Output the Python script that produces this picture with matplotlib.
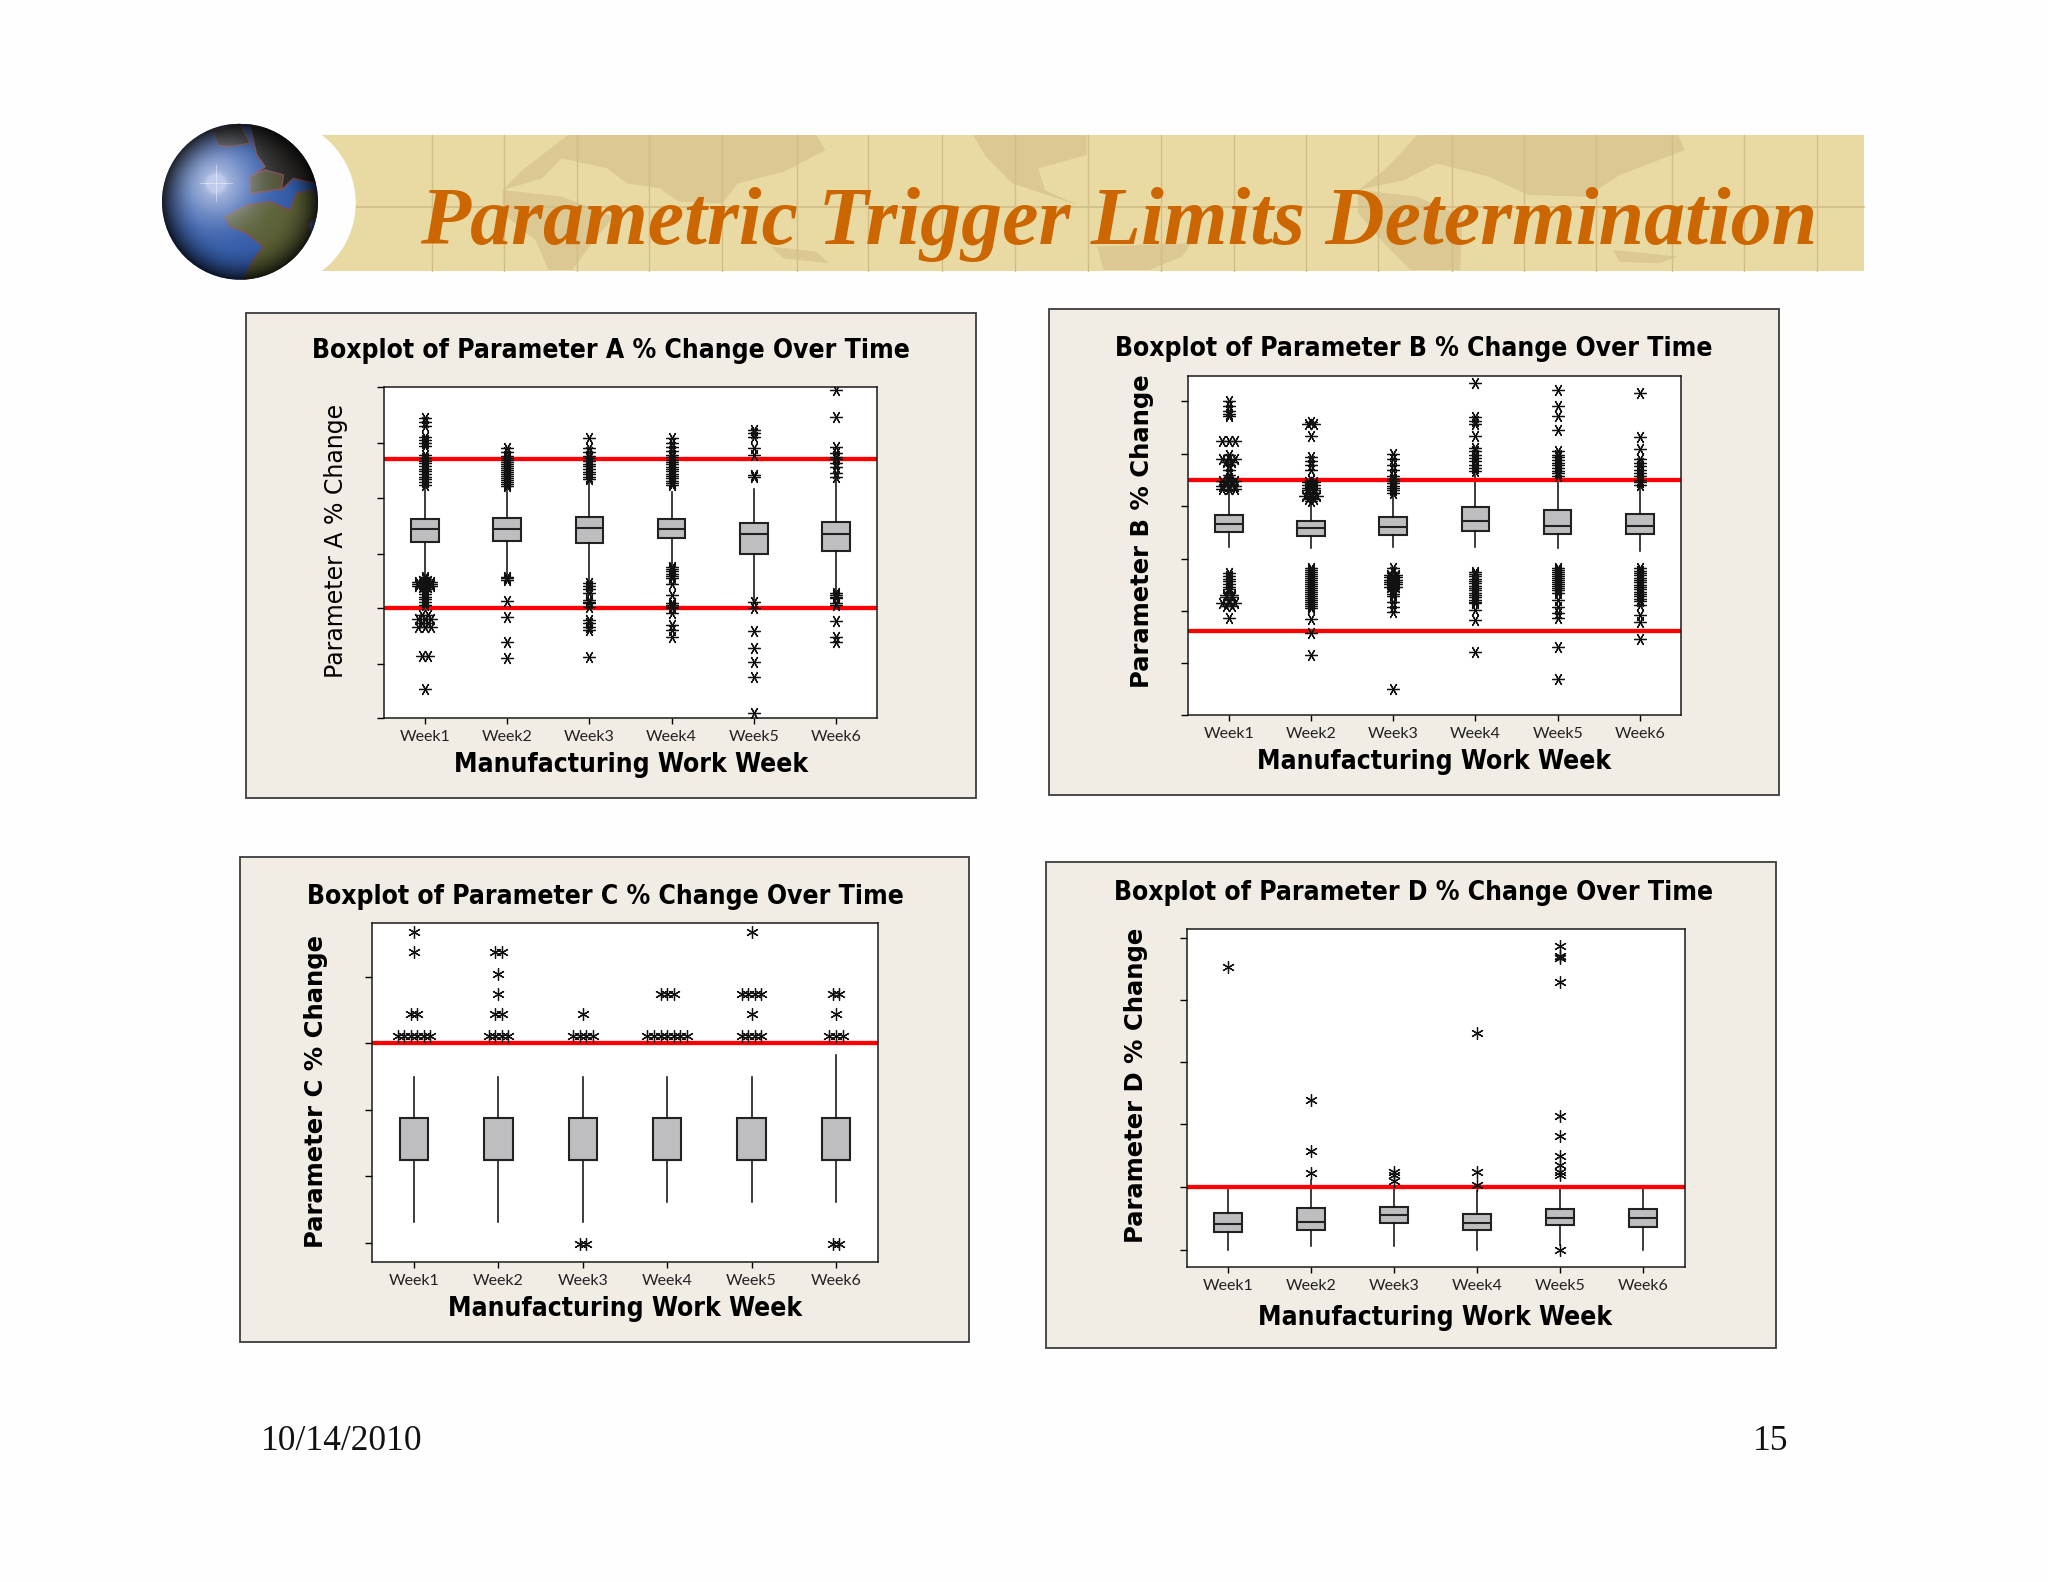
import numpy as np
import matplotlib
matplotlib.use("Agg")
import matplotlib.pyplot as plt
from matplotlib.patches import Rectangle, Circle, Polygon
from collections import Counter

WEEKS = ["Week1", "Week2", "Week3", "Week4", "Week5", "Week6"]
X_LABEL = "Manufacturing Work Week"
SLIDE_TITLE = "Parametric Trigger Limits Determination"
DATE_TEXT = "10/14/2010"
PAGE_TEXT = "15"

# ---- Parameter A (unlabelled axis: arbitrary units)
A_TITLE = "Boxplot of Parameter A % Change Over Time"
A_YLABEL = "Parameter A % Change"
A_TICKS = [0, 163, 330, 493, 661, 824, 992]
A_LIMITS = [330, 776]
A_Q1 = [528, 532, 524, 539, 493, 501]
A_MED = [566, 566, 570, 567, 551, 551]
A_Q3 = [597, 601, 604, 597, 586, 589]
A_LO = [424, 429, 409, 459, 354, 379]
A_HI = [694, 694, 714, 679, 686, 714]
A_OUT = [
    [899, 889, 876, 844, 834, 824, 817, 789, 780, 772, 764, 756, 748, 740, 732, 724, 716, 708, 700,
     424, 418, 412, 412, 407, 407, 407, 402, 402, 402, 397, 397, 397, 392, 392, 386, 380, 372, 364, 356, 348, 340,
     309, 309, 296, 296, 296, 284, 284, 272, 272, 272, 187, 187, 86],
    [809, 799, 786, 780, 774, 768, 762, 756, 750, 744, 738, 732, 726, 720, 714, 708, 702, 696,
     424, 419, 414, 352, 304, 227, 180],
    [839, 809, 799, 786, 779, 771, 763, 755, 747, 739, 731, 723, 717,
     406, 396, 386, 376, 354, 349, 344, 334, 294, 286, 272, 264, 184],
    [839, 826, 814, 802, 789, 782, 775, 768, 761, 754, 747, 740, 733, 726, 719, 712, 705, 698,
     454, 447, 440, 433, 426, 419, 402, 369, 344, 339, 334, 329, 314, 279, 264, 244],
    [864, 854, 842, 809, 789, 729, 722,
     349, 329, 261, 210, 169, 124, 14],
    [984, 904, 812, 796, 784, 776, 764, 754, 734, 724,
     374, 369, 364, 359, 344, 339, 291, 242, 227],
]

# ---- Parameter B
B_TITLE = "Boxplot of Parameter B % Change Over Time"
B_YLABEL = "Parameter B % Change"
B_TICKS = [0, 156, 312, 468, 627, 783, 940]
B_LIMITS = [251, 704]
B_Q1 = [547, 536, 539, 551, 543, 543]
B_MED = [571, 559, 563, 580, 567, 567]
B_Q3 = [598, 582, 594, 624, 613, 601]
B_LO = [505, 500, 505, 505, 500, 493]
B_HI = [670, 635, 660, 720, 710, 685]
B_OUT = [
    [940, 927, 910, 903, 895, 822, 822, 822, 780, 767, 767, 767, 758, 758, 748, 735, 720, 710,
     700, 700, 700, 693, 693, 685, 685, 685, 677, 677, 677,
     425, 417, 409, 401, 393, 385, 377, 369, 361, 361, 353, 353, 345, 335, 335, 335, 327, 327, 292],
    [877, 873, 873, 835, 773, 760, 748, 733, 705, 697, 697, 689, 689, 681, 681, 673, 673, 665, 665,
     655, 655, 655, 647, 647, 641,
     440, 434, 428, 422, 416, 410, 404, 398, 392, 386, 380, 374, 368, 362, 356, 350, 344, 338, 332, 326, 320,
     287, 247, 181],
    [783, 767, 750, 735, 715, 708, 701, 694, 687, 680, 673, 666,
     440, 430, 420, 420, 413, 413, 406, 406, 399, 399, 392, 392, 385, 385, 378, 371, 364, 357, 340, 325, 308, 79],
    [995, 893, 880, 873, 837, 800, 790, 780, 770, 760, 750, 740, 730,
     430, 423, 416, 409, 402, 395, 388, 381, 374, 367, 360, 353, 346, 339, 335, 315, 285, 188],
    [973, 925, 895, 855, 790, 780, 772, 764, 756, 748, 740, 732, 724, 716,
     440, 434, 428, 422, 416, 410, 404, 398, 392, 386, 380, 374, 365, 345, 325, 305, 290, 204, 109],
    [965, 833, 798, 767, 755, 745, 735, 725, 715, 705, 697, 690,
     440, 433, 426, 419, 412, 405, 398, 391, 384, 377, 370, 363, 356, 349, 342, 330, 300, 280, 227],
]

# ---- Parameter C
C_TITLE = "Boxplot of Parameter C % Change Over Time"
C_YLABEL = "Parameter C % Change"
C_TICKS = [57, 259, 457, 658, 856]
C_LIMITS = [658]
C_Q1 = [308, 308, 308, 308, 308, 308]
C_MED = [308, 308, 308, 308, 308, 308]
C_Q3 = [434, 434, 434, 434, 434, 434]
C_LO = [122, 122, 122, 182, 182, 182]
C_HI = [557, 557, 557, 557, 557, 621]
C_OUT = [
    [992, 931, 744, 744, 680, 680, 680, 680, 680, 680],
    [931, 931, 866, 805, 744, 744, 680, 680, 680, 680],
    [744, 680, 680, 680, 680, 55, 55],
    [805, 805, 805, 680, 680, 680, 680, 680, 680, 680],
    [992, 805, 805, 805, 805, 744, 680, 680, 680, 680],
    [805, 805, 744, 680, 680, 680, 55, 55],
]

# ---- Parameter D
D_TITLE = "Boxplot of Parameter D % Change Over Time"
D_YLABEL = "Parameter D % Change"
D_TICKS = [53, 240, 429, 616, 802, 989]
D_LIMITS = [240]
D_Q1 = [105, 113, 132, 113, 128, 120]
D_MED = [130, 137, 156, 132, 148, 148]
D_Q3 = [164, 179, 182, 160, 175, 175]
D_LO = [52, 64, 64, 52, 67, 52]
D_HI = [240, 262, 240, 230, 240, 244]
D_OUT = [
    [900],
    [501, 349, 284],
    [287, 277, 260],
    [703, 285, 247],
    [964, 935, 927, 855, 455, 395, 334, 307, 287, 277, 52],
    [],
]

W, H = 2048, 1582
fig = plt.figure(figsize=(W / 100, H / 100), dpi=100, facecolor="#fefefe")
bg = fig.add_axes([0, 0, 1, 1])
bg.set_xlim(0, W)
bg.set_ylim(H, 0)
bg.axis("off")

# ---- banner
BAN = "#e9d9a2"
LAND = "#dbc892"
GRID = "#d2bd86"
bg.add_patch(Rectangle((320, 134.5), 1544, 136.5, fc=BAN, ec="none", zorder=1))
zx = lambda x: x * 1.306
zy = lambda y: 100 + y / 3
continents = [
    [(435, 105), (625, 105), (632, 150), (600, 215), (565, 250), (553, 310), (520, 305), (505, 265), (480, 250),
     (465, 205), (430, 175), (415, 235), (385, 270), (400, 210), (420, 150)],
    [(385, 270), (430, 290), (470, 350), (455, 420), (438, 510), (420, 510), (410, 420), (385, 340)],
    [(590, 440), (625, 455), (635, 490), (600, 475)],
    [(745, 105), (832, 105), (832, 165), (795, 205), (800, 270), (825, 315), (775, 250), (755, 170)],
    [(840, 440), (912, 430), (905, 470), (880, 510), (845, 510)],
    [(1085, 105), (1285, 105), (1290, 150), (1240, 225), (1215, 290), (1170, 285), (1140, 230),
     (1100, 190), (1075, 240), (1040, 270), (1060, 210), (1075, 150)],
    [(1040, 270), (1085, 290), (1120, 350), (1118, 510), (1080, 510), (1060, 430), (1040, 340)],
    [(1235, 450), (1285, 470), (1270, 490), (1240, 485)],
]
for poly in continents:
    bg.add_patch(Polygon([(zx(a), zy(b)) for a, b in poly], fc=LAND, ec="none", zorder=2))
for gx in [331, 386, 442, 497, 553, 610, 665, 721, 777, 833, 889, 945, 1000, 1055, 1112, 1167, 1222, 1280, 1335, 1391]:
    bg.plot([zx(gx)] * 2, [134.5, 271], color=GRID, lw=1, zorder=3)
bg.plot([320, 1864], [206.7, 206.7], color=GRID, lw=1.2, zorder=3)
bg.add_patch(Circle((270.7, 203), 85, fc="#fefefe", ec="none", zorder=4))

# ---- globe
gcx, gcy, gr = 240, 201.7, 78
yy, xx = np.mgrid[gcy - gr:gcy + gr:320j, gcx - gr:gcx + gr:320j]
rr = np.hypot(xx - gcx, yy - gcy) / gr
hd = np.hypot(xx - 216, yy - 183) / gr
base_img = np.zeros(xx.shape + (3,))
base_img[...] = np.array([0.20, 0.36, 0.66])
globe = bg.imshow(base_img, extent=(gcx - gr, gcx + gr, gcy + gr, gcy - gr), zorder=5, aspect="auto")
globe.set_clip_path(Circle((gcx, gcy), gr, transform=bg.transData))
gz = lambda p: [(150 + a / 3, 110 + b / 3) for a, b in p]
land_polys = [
    ([(190, 60), (270, 40), (300, 100), (240, 110), (205, 105)], "#3c3a36"),
    ([(300, 45), (400, 60), (480, 140), (510, 220), (470, 215), (430, 205), (395, 240), (340, 230), (310, 195),
      (345, 170), (320, 135)], "#2a2825"),
    ([(300, 200), (345, 180), (400, 195), (395, 235), (340, 245), (300, 250)], "#4d4f2e"),
    ([(225, 320), (290, 285), (360, 275), (420, 300), (440, 250), (490, 240), (510, 300), (480, 360), (470, 420),
      (430, 470), (360, 510), (280, 510), (310, 450), (340, 410), (290, 370), (240, 350)], "#5a5f34"),
    ([(475, 340), (510, 310), (510, 400), (480, 370)], "#5b82c8"),
]
for pts, col in land_polys:
    p = Polygon(gz(pts), fc=col, ec="#7d4a50", lw=1.1, zorder=6)
    bg.add_patch(p)
    p.set_clip_path(Circle((gcx, gcy), gr, transform=bg.transData))
# sphere shading (dark limb, soft light around the highlight)
shade = np.zeros(xx.shape + (4,))
dark = np.clip((rr - 0.55) / 0.45, 0, 1) ** 2
glow = np.exp(-(hd / 0.50) ** 2)
spark = np.exp(-(hd / 0.09) ** 2)
shade[..., :3] = (np.array([0.75, 0.80, 0.92]) * glow[..., None] / (glow[..., None] + dark[..., None] + 1e-6))
shade[..., 3] = np.clip(0.85 * glow + 0.8 * dark + spark, 0, 1)
shade_im = bg.imshow(shade, extent=(gcx - gr, gcx + gr, gcy + gr, gcy - gr), zorder=7, aspect="auto")
shade_im.set_clip_path(Circle((gcx, gcy), gr, transform=bg.transData))
bg.plot([216, 216], [165, 201], color="white", lw=0.7, alpha=0.45, zorder=8)
bg.plot([200, 232], [183, 183], color="white", lw=0.7, alpha=0.45, zorder=8)
bg.set_xlim(0, W)
bg.set_ylim(H, 0)

bg.text(420.5, 244, SLIDE_TITLE, family="Liberation Serif", weight="bold", style="italic",
        fontsize=59, color="#cc6600", va="baseline", ha="left", zorder=9)
bg.text(261, 1450, DATE_TEXT, family="Liberation Serif", fontsize=25.5, color="#111111", va="baseline", ha="left")
bg.text(1788, 1450, PAGE_TEXT, family="Liberation Serif", fontsize=25.5, color="#111111", va="baseline", ha="right")


def spread_outliers(pos, values, step=0.078):
    xs, ys = [], []
    for v, n in Counter(values).items():
        for i in range(n):
            xs.append(pos + (i - (n - 1) / 2) * step)
            ys.append(v)
    return xs, ys


def draw_panel(frame, plot, ylim_top, ticks, limits, q1, med, q3, lo, hi, out,
               title, title_xy, ylabel, ylabel_xy, ylabel_weight, ylabel_size, xlabel_xy, star_rot):
    fx0, fy0, fx1, fy1 = frame
    bg.add_patch(Rectangle((fx0, fy0), fx1 - fx0, fy1 - fy0, fc="#f1ece4", ec="#3c3c3c", lw=1.3, zorder=1))
    bg.text(*title_xy, title, family="DejaVu Sans", stretch="condensed", weight="bold", fontsize=19, color="black",
            ha="center", va="center")
    bg.text(*xlabel_xy, X_LABEL, family="DejaVu Sans", stretch="condensed", weight="bold", fontsize=19, color="black",
            ha="center", va="center")
    bg.text(*ylabel_xy, ylabel, family="DejaVu Sans", weight=ylabel_weight, fontsize=ylabel_size, color="black",
            rotation=90, ha="center", va="center")
    px0, py0, px1, py1 = plot
    ax = fig.add_axes([px0 / W, 1 - py1 / H, (px1 - px0) / W, (py1 - py0) / H])
    ax.set_facecolor("white")
    for s in ax.spines.values():
        s.set_linewidth(1.1)
        s.set_color("#1a1a1a")
    positions = list(range(1, 7))
    stats = [dict(med=m, q1=a, q3=b, whislo=l, whishi=h, fliers=[])
             for m, a, b, l, h in zip(med, q1, q3, lo, hi)]
    ax.bxp(stats, positions=positions, widths=0.335, showcaps=False, showfliers=False, patch_artist=True,
           manage_ticks=False,
           boxprops=dict(facecolor="#bebec0", edgecolor="#222222", linewidth=1.5),
           medianprops=dict(color="#222222", linewidth=1.5),
           whiskerprops=dict(color="#111111", linewidth=1.15))
    for v in limits:
        ax.axhline(v, color="#ff0000", lw=3.1, zorder=2.5)
    for p, vals in zip(positions, out):
        xs, ys = spread_outliers(p, vals)
        ax.plot(xs, ys, ls="none", marker=(6, 2, star_rot), ms=9.0, mew=0.9, color="#111111", zorder=4,
                clip_on=True)
    ax.set_xlim(0.5, 6.5)
    ax.set_ylim(0, ylim_top)
    ax.set_xticks(positions, WEEKS, family="Lato", fontsize=11.5, color="#222222")
    ax.set_yticks(ticks, [""] * len(ticks))
    ax.tick_params(axis="x", length=4, width=1.0, pad=4.5)
    ax.tick_params(axis="y", length=5, width=1.0)
    return ax


draw_panel((245.5, 312.7, 975.5, 798), (383.7, 387.3, 877.2, 718), 992, A_TICKS, A_LIMITS,
           A_Q1, A_MED, A_Q3, A_LO, A_HI, A_OUT, A_TITLE, (610.6, 351), A_YLABEL, (336.5, 541), "normal", 17, (631, 765), 90)
draw_panel((1049.3, 309, 1778.7, 795), (1187.7, 376, 1681, 715), 1016, B_TICKS, B_LIMITS,
           B_Q1, B_MED, B_Q3, B_LO, B_HI, B_OUT, B_TITLE, (1414, 349), B_YLABEL, (1141.5, 530.7), "bold", 17.5, (1434.5, 762), 90)
draw_panel((240.3, 857, 969, 1342), (371.8, 923.3, 878.2, 1262.3), 1017, C_TICKS, C_LIMITS,
           C_Q1, C_MED, C_Q3, C_LO, C_HI, C_OUT, C_TITLE, (605, 897), C_YLABEL, (316, 1092), "bold", 17.5, (625.5, 1309), 0)
draw_panel((1046, 861.7, 1775.7, 1347.7), (1186.8, 928.7, 1684.7, 1267.3), 1016, D_TICKS, D_LIMITS,
           D_Q1, D_MED, D_Q3, D_LO, D_HI, D_OUT, D_TITLE, (1414, 892.7), D_YLABEL, (1136, 1085.7), "bold", 17.5, (1435.5, 1318), 0)

fig.savefig("out.png", dpi=100, facecolor=fig.get_facecolor())
